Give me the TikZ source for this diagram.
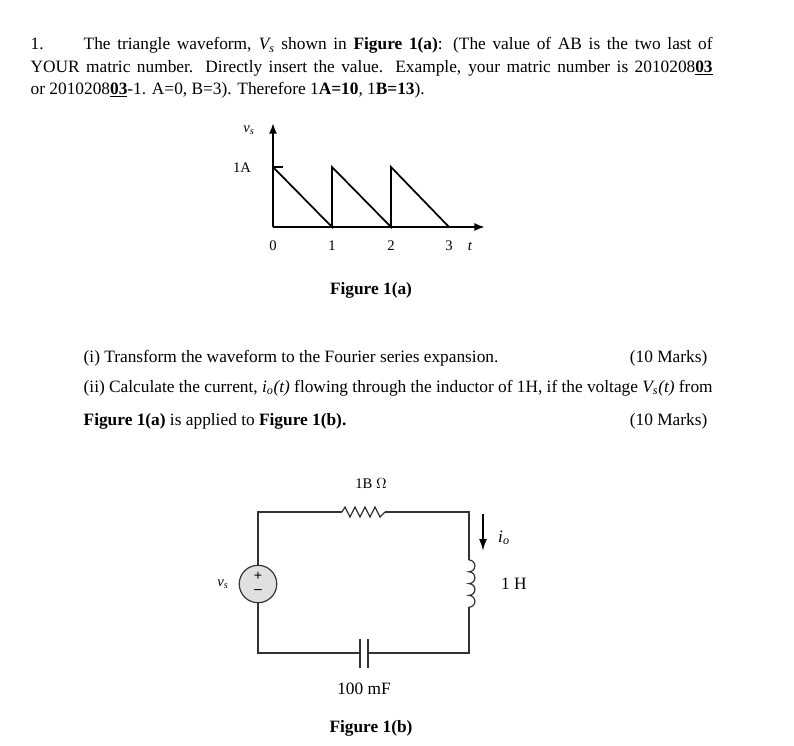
\documentclass[tikz,border=0pt]{standalone}
\usepackage{fontspec}
\setmainfont{Liberation Serif}
\usetikzlibrary{arrows.meta}
\begin{document}
\begin{tikzpicture}[x=0.75pt,y=-0.75pt,line width=1pt,
  txt/.style={inner sep=0pt,font=\fontsize{13pt}{16pt}\selectfont},
  sm/.style={inner sep=0pt,font=\fontsize{11pt}{13pt}\selectfont},
  wv/.style={line width=1.3pt},
  wire/.style={line width=0.9pt,draw=black!80}]
\useasboundingbox (0,0) rectangle (794,746);
% text
\node[txt,anchor=base west] (n1) at (30,50) {1.};
\node[txt,anchor=base west,text width=629pt*0.75,align=justify] (l1) at (83,50) {\parfillskip=0pt The triangle waveform, \textit{V\textsubscript{s}} shown in \textbf{Figure 1(a)}: (The value of AB is the two last of\par};
\node[txt,anchor=base west,text width=682pt*0.75,align=justify] (l2) at (30,72) {\parfillskip=0pt YOUR matric number. Directly insert the value. Example, your matric number is 2010208\textbf{\underline{03}}\par};
\node[txt,anchor=base west] (l3) at (30,94) {or 2010208\textbf{\underline{03}}-1. A=0, B=3). Therefore 1\textbf{A=10}, 1\textbf{B=13}).};
% waveform
\coordinate (o) at (273,227);
\coordinate (yt) at (273,123);
\coordinate (xe) at (485,227);
\draw[wv,-{Latex[length=8pt,width=6pt]}] (o) -- (yt);
\draw[wv,-{Latex[length=8pt,width=6pt]}] (o) -- (xe);
\draw[wv] (273,167) -- (332,227) -- (332,167) -- (391,227) -- (391,167) -- (449,227);
\draw[wv] (273,167) -- (283,167);
\node[sm] (vs1) at (249,130) {\textit{v\textsubscript{s}}};
\node[sm] (oneA) at (242,168) {1A};
\node[sm] (t0) at (273,246) {0};
\node[sm] (t1) at (332,246) {1};
\node[sm] (t2) at (391,246) {2};
\node[sm] (t3) at (449,246) {3};
\node[sm] (tt) at (470,246) {\textit{t}};
\node[txt] (fa) at (371,290) {\textbf{Figure 1(a)}};
% questions
\node[txt,anchor=base west] (q1) at (83,362) {(i) Transform the waveform to the Fourier series expansion.};
\node[txt,anchor=base east] (m1) at (708,362) {(10 Marks)};
\node[txt,anchor=base west,text width=629pt*0.75,align=justify] (q2) at (83,392) {\parfillskip=0pt (ii) Calculate the current, \textit{i\textsubscript{o}(t)} flowing through the inductor of 1H, if the voltage \textit{V\textsubscript{s}(t)} from\par};
\node[txt,anchor=base west] (q3) at (83,425) {\textbf{Figure 1(a)} is applied to \textbf{Figure 1(b).}};
\node[txt,anchor=base east] (m2) at (708,425) {(10 Marks)};
% circuit
\node[circle,draw=black!80,fill=black!12,line width=0.9pt,minimum size=37.5pt*0.75,inner sep=0pt] (src) at (258,584) {};
\node[inner sep=0pt,font=\fontsize{11pt}{11pt}\selectfont\bfseries] (pl) at (258,576) {+};
\node[inner sep=0pt,font=\fontsize{11pt}{11pt}\selectfont\bfseries] (mi) at (258,592) {\textendash};
\coordinate (tl) at (258,512); \coordinate (tr) at (469,512);
\coordinate (bl) at (258,653); \coordinate (br) at (469,653);
\coordinate (r1) at (342,512); \coordinate (r2) at (385,512);
\coordinate (l1c) at (469,560); \coordinate (l2c) at (469,607);
\coordinate (c1) at (360,653); \coordinate (c2) at (368,653);
\draw[wire] (src.north) -- (tl) -- (r1);
\draw[wire] (r1) -- ++(3,-5) -- ++(5,10) -- ++(5,-10) -- ++(5,10) -- ++(5,-10) -- ++(5,10) -- ++(5,-10) -- ++(5,10) -- (r2);
\draw[wire] (r2) -- (tr) -- (l1c);
\draw[wire] (l1c) arc[start angle=-90,end angle=90,radius=5.9]
  arc[start angle=-90,end angle=90,radius=5.9]
  arc[start angle=-90,end angle=90,radius=5.9]
  arc[start angle=-90,end angle=90,radius=5.9];
\draw[wire] (l2c) -- (br) -- (c2);
\draw[wire] (c1) -- (bl) -- (src.south);
\draw[wire] (c1) ++(0,-14) -- ++(0,29);
\draw[wire] (c2) ++(0,-14) -- ++(0,29);
\coordinate (ia) at (483,514); \coordinate (ib) at (483,551);
\draw[line width=1.4pt,-{Latex[length=9pt,width=6pt]}] (ia) -- (ib);
\node[sm] (rl) at (371,484) {1B $\Omega$};
\node[txt] (io) at (504,538) {\textit{i\textsubscript{o}}};
\node[txt] (lh) at (514,584) {1 H};
\node[sm] (vs2) at (223,584) {\textit{v\textsubscript{s}}};
\node[txt] (cap) at (364,689) {100 mF};
\node[txt] (fb) at (371,728) {\textbf{Figure 1(b)}};
\end{tikzpicture}
\end{document}
